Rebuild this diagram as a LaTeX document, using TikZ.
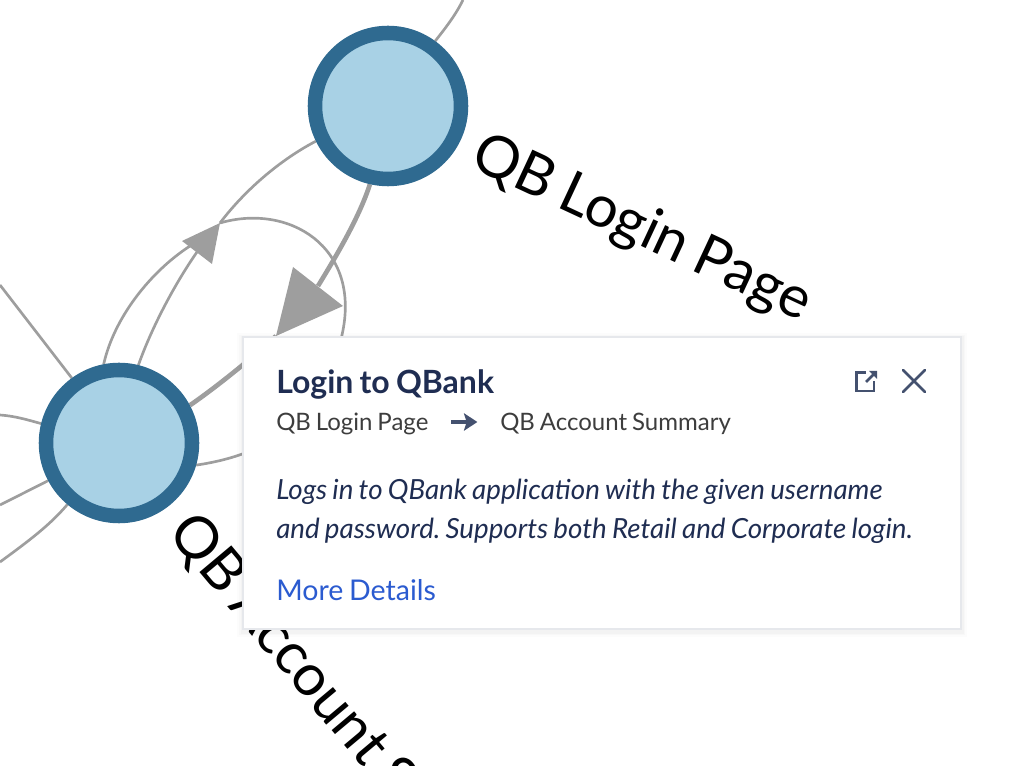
\documentclass[tikz,border=0pt]{standalone}
\usepackage{fontspec}
\setmainfont{Lato}[WordSpace=0.8]
\usetikzlibrary{arrows.meta,calc}
\definecolor{edgegray}{HTML}{9E9E9E}
\definecolor{nodefill}{HTML}{A8D1E5}
\definecolor{noderim}{HTML}{2F6A90}
\definecolor{navy}{HTML}{1F2D52}
\definecolor{subtxt}{HTML}{3D3D3D}
\definecolor{linkblue}{HTML}{2B5BD0}
\definecolor{slate}{HTML}{44516F}
\definecolor{panelrim}{HTML}{E6E8EC}
\pgfdeclarelayer{edges}
\pgfsetlayers{edges,main}
\tikzset{
  graphnode/.style={circle,draw=noderim,fill=nodefill,line width=10.9pt,minimum size=109.5pt,inner sep=0pt},
  thinedge/.style={draw=edgegray,line width=2pt},
  thickedge/.style={draw=edgegray,line width=3.5pt},
  headfill/.style={fill=edgegray,draw=none},
  graphlabel/.style={font=\fontsize{43.5}{52}\selectfont,text=black,anchor=base west,inner sep=0pt},
  ptext/.style={anchor=base west,inner sep=0pt},
  icon/.style={draw=slate,line width=1.9pt},
}
\begin{document}
\frenchspacing
\begin{tikzpicture}[x=0.75pt,y=-0.75pt]
\useasboundingbox (0,0) rectangle (1018,766);
\node[graphnode] (A) at (388,106) {};
\node[graphnode] (B) at (119,443) {};
\coordinate (topEnd) at (463,0);
\coordinate (left1) at (0,285);
\coordinate (left2) at (0,415);
\coordinate (left3) at (0,505);
\coordinate (left4) at (0,562);
\coordinate (smallTip) at (220,223);
\coordinate (smallB1) at (182,241);
\coordinate (smallB2) at (212,264);
\coordinate (smallBase) at (197,252);
\coordinate (outerEnd) at (190,246);
\coordinate (bigTip) at (276,336);
\coordinate (bigB1) at (293,267);
\coordinate (bigB2) at (343,306);
\coordinate (bigBase) at (318,286);
\coordinate (hiddenBend) at (342,335);
\begin{pgfonlayer}{edges}
  \draw[thinedge] (A.54) .. controls (452,20) and (458,10) .. (topEnd);
  \draw[thinedge] (A.206) .. controls (280,160) and (245,190) .. (smallTip);
  \draw[thinedge] (B.101) .. controls (114,318) and (150,272) .. (outerEnd);
  \draw[thinedge] (B.76) .. controls (150,332) and (172,288) .. (smallBase);
  \draw[thinedge] (B.-16) .. controls (300,450) and (330,390) .. (hiddenBend)
     .. controls (362,246) and (288,203) .. (smallTip);
  \draw[thickedge] (A.257) .. controls (360,215) and (340,250) .. (bigBase);
  \draw[thickedge] (bigTip) .. controls (250,360) and (215,388) .. (B.28);
  \draw[thinedge] (left1) -- (B.126);
  \draw[thinedge] (left2) .. controls (15,416) and (28,420) .. (B.166);
  \draw[thinedge] (left3) -- (B.208);
  \draw[thinedge] (left4) .. controls (30,540) and (50,525) .. (B.230);
  \fill[headfill] (smallTip) -- (smallB1) -- (smallB2) -- cycle;
  \fill[headfill] (bigTip) -- (bigB1) -- (bigB2) -- cycle;
\end{pgfonlayer}
\begin{scope}
  \clip (0,0) rectangle (1018,766);
  \node[graphlabel,rotate=-25] (labA) at (468,166) {QB Login Page};
  \node[graphlabel,rotate=-50] (labB) at (166,533) {QB Account Summary};
\end{scope}
% panel
\foreach \o/\a in {6/0.012,4/0.016,2.5/0.02}{
  \fill[black,opacity=\a] (243-\o,337-\o+2) rectangle (961+\o,629+\o+2);
}
\node[draw=panelrim,fill=white,line width=1.5pt,inner sep=0pt,minimum width=538.5pt,minimum height=218.5pt] (panel) at (602,483) {};
\node[ptext,text=navy,font=\bfseries\fontsize{24}{29}\selectfont] (title) at (276,394) {Login to QBank};
\node[ptext,text=subtxt,font=\fontsize{18}{22}\selectfont] (src) at (276,431) {QB Login Page};
\node[ptext,text=subtxt,font=\fontsize{18}{22}\selectfont] (dst) at (500,431) {QB Account Summary};
\draw[draw=slate,line width=2.6pt,-{Stealth[length=10pt,width=13pt,inset=2pt]},shorten <=17pt,shorten >=17pt] (src.east |- 450,422) -- (dst.west |- 450,422);
\node[ptext,text=navy,font=\itshape\fontsize{20.8}{30}\selectfont] (desc1) at (276,499) {Logs in to QBank application with the given username};
\node[ptext,text=navy,font=\itshape\fontsize{20.8}{30}\selectfont] (desc2) at (276,538.5) {and password. Supports both Retail and Corporate login.};
\node[ptext,text=linkblue,font=\fontsize{21.4}{26}\selectfont] (more) at (276,600) {More Details};
% icons
\draw[icon,line join=miter] (866,372.5) -- (856.5,372.5) -- (856.5,391) -- (874,391) -- (874,381);
\draw[icon] (866,382) -- (875,373);
\fill[slate] (877,371) -- (869,371) -- (877,379) -- cycle;
\draw[draw=slate,line width=2.1pt,line cap=round] (903,370) -- (925,392);
\draw[draw=slate,line width=2.1pt,line cap=round] (925,370) -- (903,392);
\end{tikzpicture}
\end{document}
